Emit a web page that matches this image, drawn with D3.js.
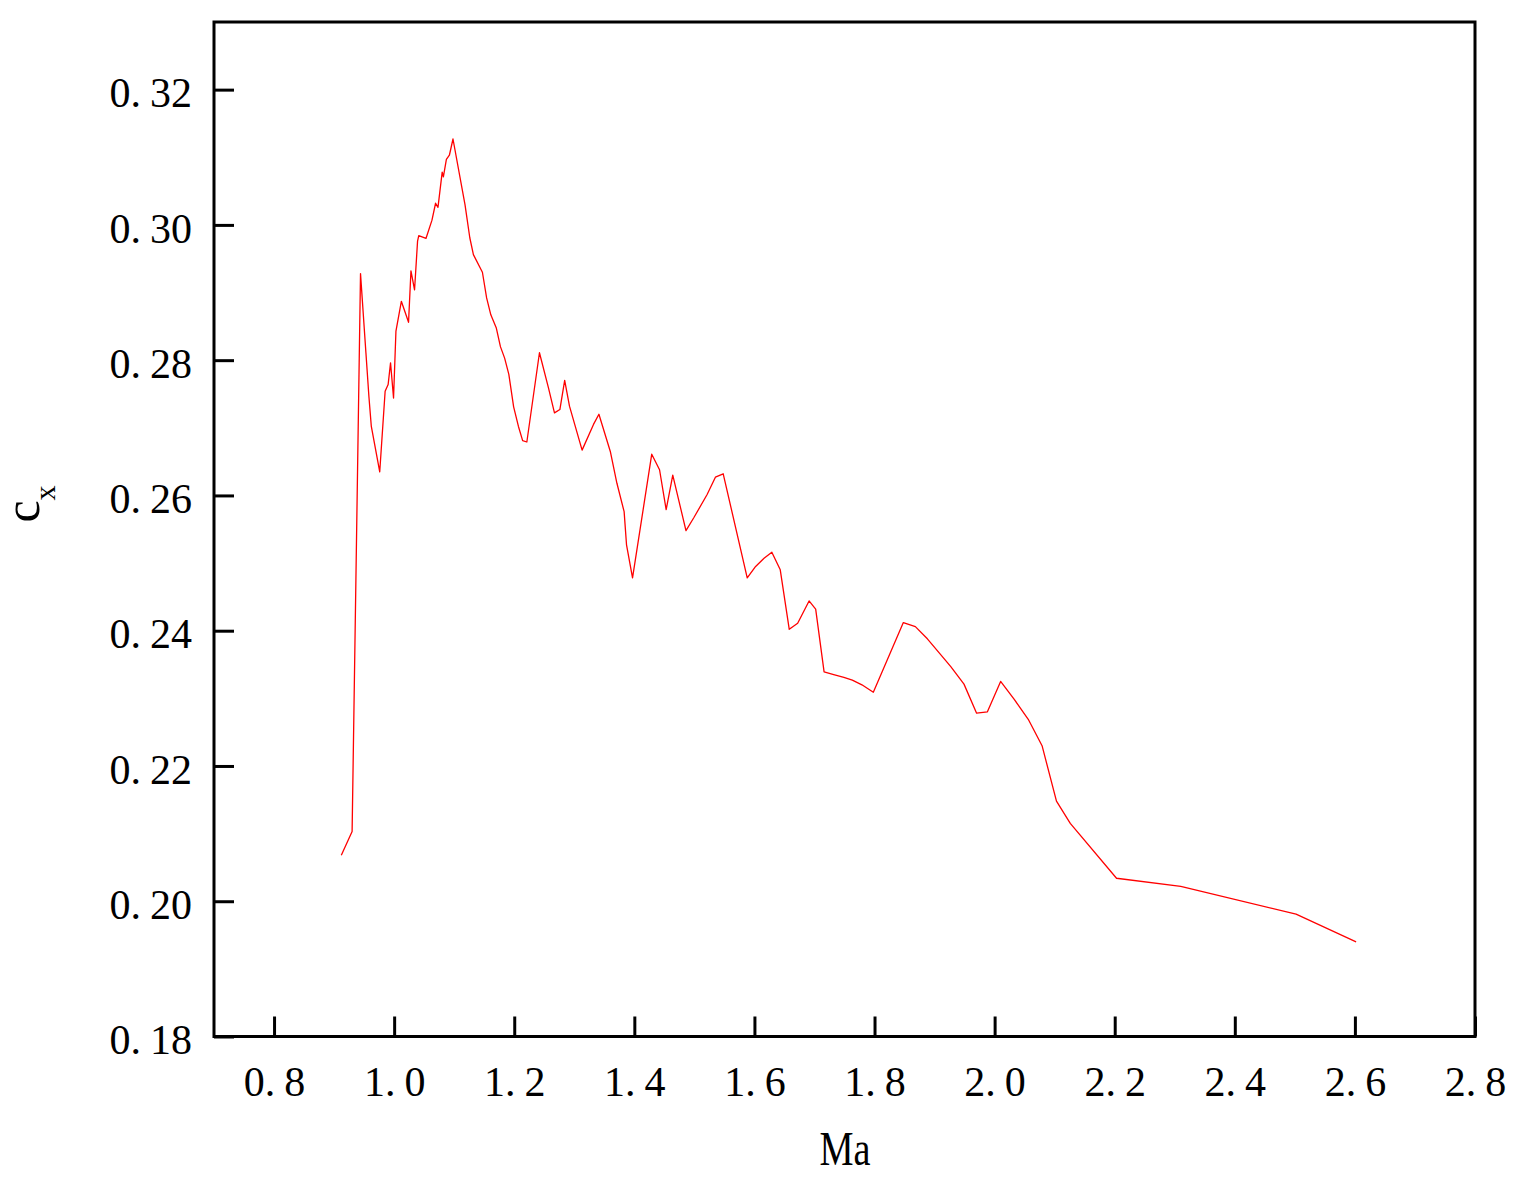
<!DOCTYPE html>
<html>
<head>
<meta charset="utf-8">
<script src="https://cdn.jsdelivr.net/npm/d3@7"></script>
<style>
  body { margin: 0; background: #fff; }
  svg text { font-family: "Liberation Serif", "DejaVu Serif", serif; fill: #000; }
</style>
</head>
<body>
<svg width="1534" height="1180"></svg>
<script>
// Ma values
var ma = [0.912, 0.930, 0.944, 0.953, 0.958, 0.962, 0.976, 0.985, 0.990, 0.994,
  0.999, 1.003, 1.012, 1.024, 1.028, 1.034, 1.039, 1.041, 1.053, 1.063,
  1.069, 1.073, 1.080, 1.082, 1.087, 1.092, 1.098, 1.118, 1.126, 1.132,
  1.147, 1.154, 1.161, 1.170, 1.177, 1.184, 1.191, 1.199, 1.207, 1.214,
  1.221, 1.242, 1.257, 1.267, 1.276, 1.284, 1.292, 1.313, 1.332, 1.341,
  1.360, 1.371, 1.383, 1.387, 1.397, 1.429, 1.442, 1.453, 1.464, 1.486,
  1.499, 1.521, 1.535, 1.548, 1.588, 1.602, 1.616, 1.629, 1.643, 1.658,
  1.672, 1.691, 1.702, 1.716, 1.732, 1.749, 1.763, 1.779, 1.798, 1.848,
  1.868, 1.888, 1.907, 1.927, 1.949, 1.970, 1.988, 2.010, 2.033, 2.056,
  2.079, 2.103, 2.126, 2.203, 2.310, 2.502, 2.602];

// drag coefficient cx
var cx = [0.2068, 0.2103, 0.2928, 0.2811, 0.2746, 0.2702, 0.2635, 0.2754, 0.2764, 0.2796,
  0.2744, 0.2843, 0.2887, 0.2856, 0.2932, 0.2904, 0.2976, 0.2984, 0.2980, 0.3007,
  0.3032, 0.3026, 0.3078, 0.3071, 0.3097, 0.3103, 0.3127, 0.3030, 0.2981, 0.2956,
  0.2930, 0.2892, 0.2867, 0.2848, 0.2820, 0.2803, 0.2779, 0.2731, 0.2702, 0.2681,
  0.2679, 0.2811, 0.2759, 0.2722, 0.2727, 0.2770, 0.2732, 0.2667, 0.2705, 0.2720,
  0.2665, 0.2618, 0.2576, 0.2527, 0.2478, 0.2661, 0.2638, 0.2579, 0.2630, 0.2548,
  0.2567, 0.2601, 0.2627, 0.2632, 0.2478, 0.2495, 0.2507, 0.2516, 0.2490, 0.2402,
  0.2411, 0.2444, 0.2432, 0.2339, 0.2335, 0.2331, 0.2327, 0.2320, 0.2309, 0.2412,
  0.2406, 0.2388, 0.2368, 0.2347, 0.2321, 0.2278, 0.2280, 0.2325, 0.2298, 0.2269,
  0.2230, 0.2148, 0.2115, 0.2034, 0.2022, 0.1981, 0.1940];

var xTicks = [0.8, 1.0, 1.2, 1.4, 1.6, 1.8, 2.0, 2.2, 2.4, 2.6, 2.8];
var yTicks = [0.18, 0.20, 0.22, 0.24, 0.26, 0.28, 0.30, 0.32];

var svg = d3.select("svg"),
    plotL = 214, plotR = 1475, plotT = 22, plotB = 1036.5;

var x = d3.scaleLinear().domain([0.7, 2.8]).range([plotL, plotR]);
var y = d3.scaleLinear().domain([0.18, 0.33]).range([plotB, plotT]);

var data = ma.map(function(m, i) { return {m: m, c: cx[i]}; });

var line = d3.line()
    .x(function(d) { return x(d.m); })
    .y(function(d) { return y(d.c); });

svg.append("path")
    .datum(data)
    .attr("fill", "none")
    .attr("stroke", "#ff0000")
    .attr("stroke-width", 1.3)
    .attr("stroke-linejoin", "round")
    .attr("d", line);

// split "0.32" so the part after the point gets a wider gap, like the original font
function splitLabel(sel, fmt, gap) {
  sel.each(function(d) {
    var s = fmt(d), p = s.indexOf(".");
    var t = d3.select(this).text(null);
    t.append("tspan").text(s.slice(0, p + 1));
    t.append("tspan").attr("dx", gap).text(s.slice(p + 1));
  });
}

var xAxis = svg.append("g")
    .attr("transform", "translate(0," + plotB + ")")
    .call(d3.axisBottom(x).tickValues(xTicks).tickSizeInner(-20).tickSizeOuter(0).tickPadding(0));
xAxis.select(".domain").remove();
xAxis.selectAll(".tick line").attr("stroke", "#000").attr("stroke-width", 3);
xAxis.selectAll(".tick text")
    .attr("font-size", 42)
    .attr("y", 59.5)
    .attr("dy", null)
    .attr("font-family", "Liberation Serif")
    .call(splitLabel, d3.format(".1f"), 9);

var yAxis = svg.append("g")
    .attr("transform", "translate(" + plotL + ",0)")
    .call(d3.axisLeft(y).tickValues(yTicks).tickSizeInner(-20).tickSizeOuter(0).tickPadding(0));
yAxis.select(".domain").remove();
yAxis.selectAll(".tick line").attr("stroke", "#000").attr("stroke-width", 3);
yAxis.selectAll(".tick text")
    .attr("font-size", 42)
    .attr("x", -22)
    .attr("dy", "0.41em")
    .attr("font-family", "Liberation Serif")
    .call(splitLabel, d3.format(".2f"), 9);

// frame
svg.append("rect")
    .attr("x", plotL).attr("y", plotT)
    .attr("width", plotR - plotL).attr("height", plotB - plotT)
    .attr("fill", "none")
    .attr("stroke", "#000")
    .attr("stroke-width", 3);

// axis titles
svg.append("text")
    .attr("x", 845).attr("y", 1165)
    .attr("text-anchor", "middle")
    .attr("font-size", 48)
    .attr("textLength", 51)
    .attr("lengthAdjust", "spacingAndGlyphs")
    .text("Ma");

var yl = svg.append("text")
    .attr("transform", "translate(39,504) rotate(-90)")
    .attr("text-anchor", "middle")
    .attr("font-size", 50);
yl.append("tspan").text("c");
yl.append("tspan").attr("dy", 16).attr("font-size", 30).text("x");
</script>
</body>
</html>
